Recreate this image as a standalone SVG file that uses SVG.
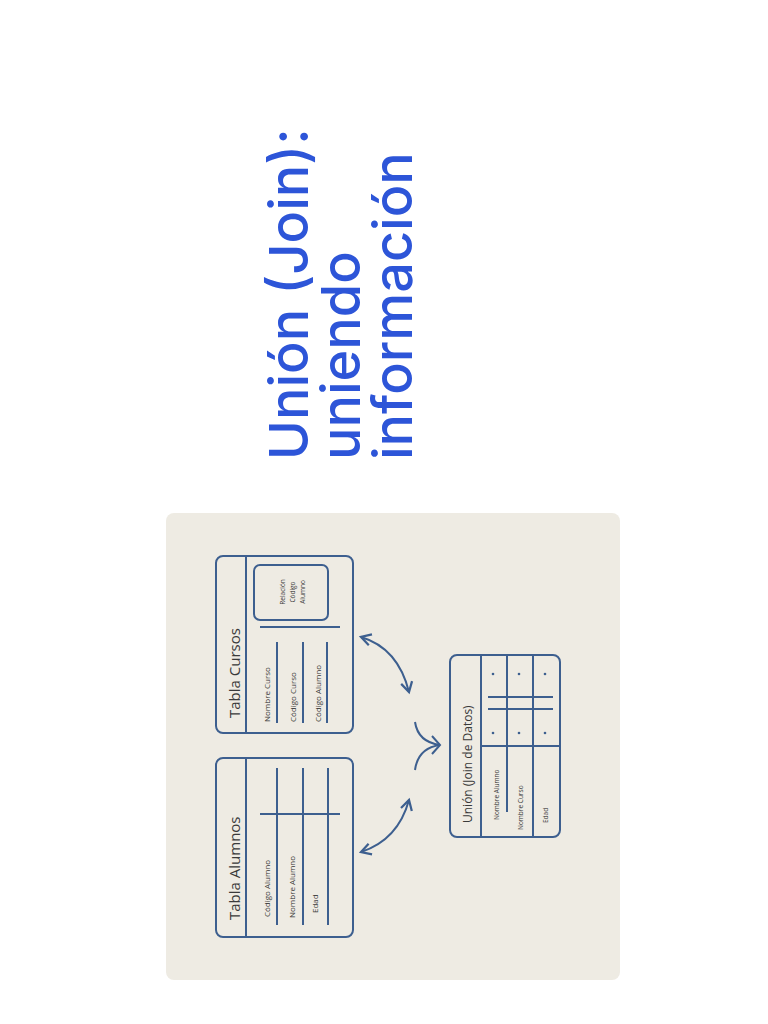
<svg xmlns="http://www.w3.org/2000/svg" width="768" height="1024" viewBox="0 0 768 1024">
<style>
.b{fill:none;stroke:#3d5f8f;stroke-width:2}
.l{stroke:#3d5f8f;stroke-width:2}
.t{font-family:"Open Sans",sans-serif;fill:#3a3a3a}
.ttl{font-family:"Inter","Open Sans",sans-serif;fill:#2d55d8;font-size:54px;font-weight:500}
</style>
<defs>
<marker id="a" viewBox="0 0 10 10" refX="8" refY="5" markerWidth="7" markerHeight="7" orient="auto-start-reverse"><path d="M1,1 L8,5 L1,9" fill="none" stroke="#3d5f8f" stroke-width="1.6"/></marker>
</defs>
<rect width="768" height="1024" fill="#fff"/>
<g id="title">
<text class="ttl" transform="translate(308,460) rotate(-90)">Unión (Join):</text>
<text class="ttl" transform="translate(360,460) rotate(-90)">uniendo</text>
<text class="ttl" transform="translate(412,460) rotate(-90)">información</text>
</g>
<rect x="166" y="513" width="454" height="467" rx="8" fill="#eeebe3"/>
<g id="cursos">
<rect class="b" x="216" y="556" width="137" height="177" rx="7"/>
<line class="l" x1="246" y1="556" x2="246" y2="733"/>
<text class="t" font-size="15" transform="translate(240,718) rotate(-90)">Tabla Cursos</text>
<rect class="b" x="254" y="565" width="74" height="55" rx="6"/>
<text class="t" font-size="6.5" text-anchor="middle" transform="translate(285,592) rotate(-90)">Relación</text>
<text class="t" font-size="6.5" text-anchor="middle" transform="translate(295,592) rotate(-90)">Código</text>
<text class="t" font-size="6.5" text-anchor="middle" transform="translate(305,592) rotate(-90)">Alumno</text>
<line class="l" x1="260" y1="627" x2="340" y2="627"/>
<text class="t" font-size="8" transform="translate(270,722) rotate(-90)">Nombre Curso</text>
<line class="l" x1="277" y1="642" x2="277" y2="723"/>
<text class="t" font-size="8" transform="translate(296,722) rotate(-90)">Código Curso</text>
<line class="l" x1="303" y1="642" x2="303" y2="723"/>
<text class="t" font-size="8" transform="translate(321,722) rotate(-90)">Código Alumno</text>
<line class="l" x1="327" y1="642" x2="327" y2="723"/>
</g>
<g id="alumnos">
<rect class="b" x="216" y="758" width="137" height="179" rx="7"/>
<line class="l" x1="246" y1="758" x2="246" y2="937"/>
<text class="t" font-size="15" transform="translate(240,920) rotate(-90)">Tabla Alumnos</text>
<text class="t" font-size="8" transform="translate(270,917) rotate(-90)">Código Alumno</text>
<text class="t" font-size="8" transform="translate(295,918) rotate(-90)">Nombre Alumno</text>
<text class="t" font-size="8" transform="translate(318,913) rotate(-90)">Edad</text>
<line class="l" x1="277" y1="768" x2="277" y2="925"/>
<line class="l" x1="303" y1="768" x2="303" y2="925"/>
<line class="l" x1="328" y1="768" x2="328" y2="925"/>
<line class="l" x1="260" y1="814" x2="340" y2="814"/>
</g>
<g id="union">
<rect class="b" x="450" y="655" width="110" height="182" rx="7"/>
<line class="l" x1="481" y1="655" x2="481" y2="837"/>
<text class="t" font-size="12" transform="translate(472,823) rotate(-90)">Unión (Join de Datos)</text>
<line class="l" x1="507" y1="655" x2="507" y2="812"/>
<line class="l" x1="533" y1="655" x2="533" y2="837"/>
<line class="l" x1="481" y1="746" x2="560" y2="746"/>
<line class="l" x1="488" y1="697" x2="553" y2="697"/>
<line class="l" x1="488" y1="709" x2="553" y2="709"/>
<g fill="#3d5f8f"><circle cx="493" cy="674" r="1.3"/><circle cx="519" cy="674" r="1.3"/><circle cx="545" cy="674" r="1.3"/><circle cx="493" cy="733" r="1.3"/><circle cx="519" cy="733" r="1.3"/><circle cx="545" cy="733" r="1.3"/></g>
<text class="t" font-size="6.5" transform="translate(499,820) rotate(-90)">Nombre Alumno</text>
<text class="t" font-size="6.5" transform="translate(523,830) rotate(-90)">Nombre Curso</text>
<text class="t" font-size="6.5" transform="translate(548,823) rotate(-90)">Edad</text>
</g>
<g id="connectors" fill="none" stroke="#3d5f8f" stroke-width="2">
<path d="M361,637 Q398,648 409,692" marker-start="url(#a)" marker-end="url(#a)"/>
<path d="M361,852 Q398,840 409,800" marker-start="url(#a)" marker-end="url(#a)"/>
<path d="M415,722 Q418,742 440,745"/>
<path d="M415,770 Q418,748 440,745"/>
<path d="M432,736 L440,745 L432,754"/>
</g>
</svg>
